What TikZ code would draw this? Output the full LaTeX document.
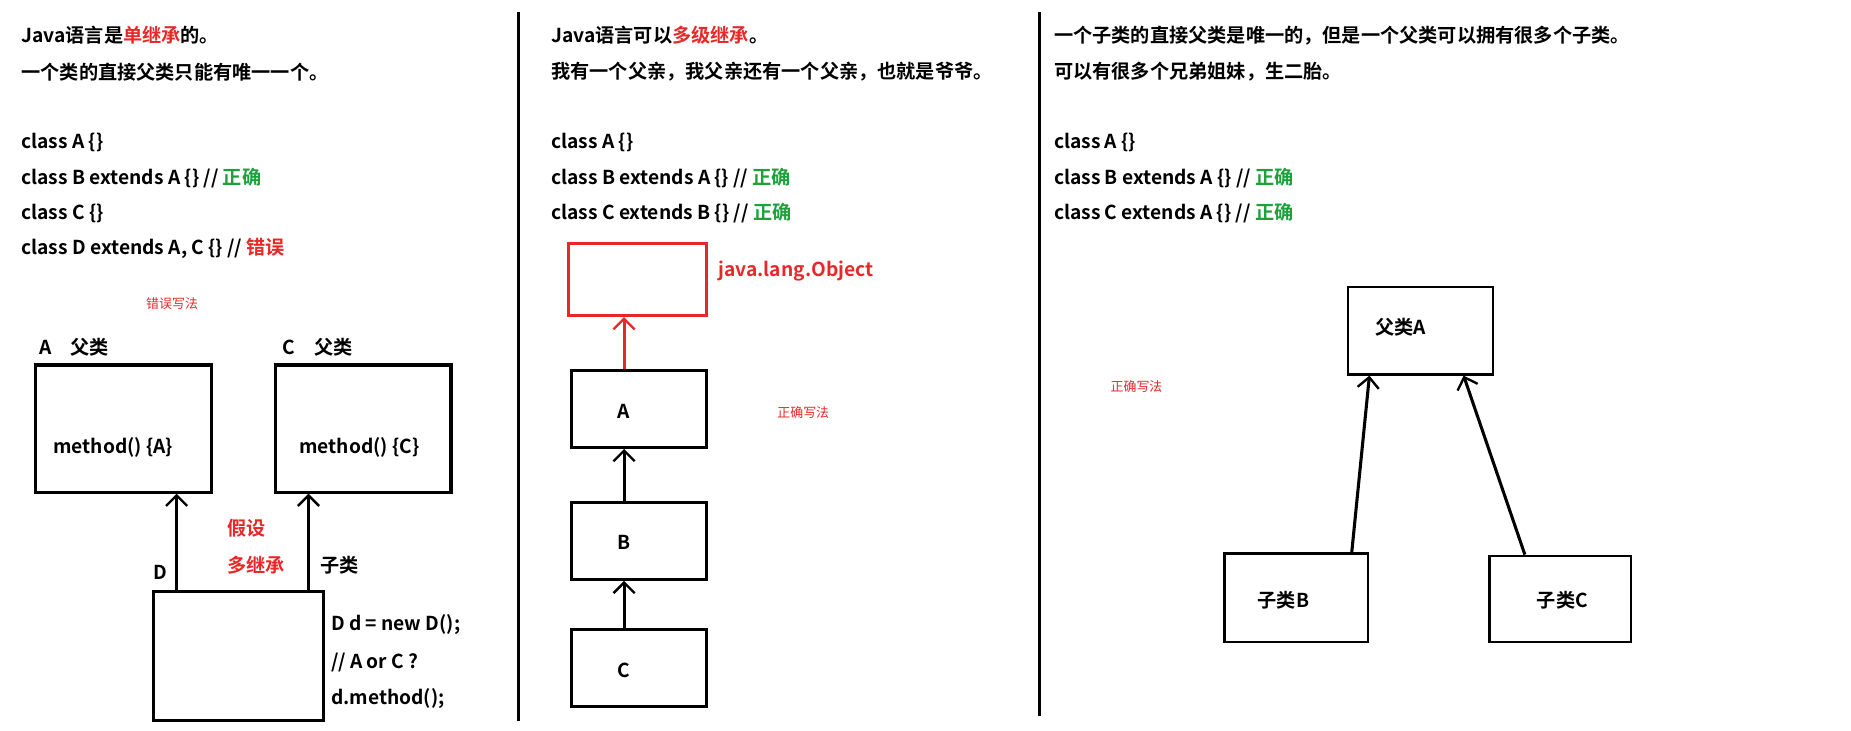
\documentclass[tikz,border=0pt]{standalone}
\usepackage{fontspec}
\setmainfont{Noto Sans CJK SC}[BoldFont={* Bold}]
\usetikzlibrary{arrows.meta}
\definecolor{rd}{RGB}{232,40,40}
\definecolor{gn}{RGB}{30,160,60}
\begin{document}
\begin{tikzpicture}[x=1pt,y=-1pt,
 t/.style={anchor=west,inner sep=0,font=\fontsize{16.3}{19}\selectfont\bfseries},
 sm/.style={anchor=west,inner sep=0,text=rd,font=\fontsize{11}{13}\selectfont},
 bx/.style={draw,line width=2.6pt,font=\fontsize{16.3}{19}\selectfont\bfseries},
 ar/.style={line width=2.6pt,-{Straight Barb[length=9pt,width=18pt,line width=2pt]}}]
\useasboundingbox (0,0) rectangle (1572,620);
\draw[line width=2.4pt] (440,10) -- (440,612);
\draw[line width=2.4pt] (883,10) -- (883,608);
% panel 1
\node[t] (p1a) at (18,30) {Java语言是\textcolor{rd}{单继承}的。};
\node[t] (p1b) at (18,61) {一个类的直接父类只能有唯一一个。};
\node[t] (p1c) at (18,121) {class A \{\}};
\node[t] (p1d) at (18,151) {class B extends A \{\} // \textcolor{gn}{正确}};
\node[t] (p1e) at (18,181) {class C \{\}};
\node[t] (p1f) at (18,211) {class D extends A, C \{\} // \textcolor{rd}{错误}};
\node[sm] (w1) at (124,258) {错误写法};
\node[bx,minimum width=150pt,minimum height=108pt] (A) at (105,364) {};
\node[t] (ma) at (45,380) {method() \{A\}};
\node[t] (la) at (33,295) {A\quad 父类};
\node[bx,minimum width=149pt,minimum height=108pt] (C) at (308.5,364) {};
\node[t] (mc) at (254,380) {method() \{C\}};
\node[t] (lc) at (240,295) {C\quad 父类};
\node[bx,minimum width=145pt,minimum height=110pt] (D) at (202.5,557) {};
\node[t] (ld) at (130,486) {D};
\draw[ar] (D.north -| 150,0) -- (A.south -| 150,0);
\draw[ar] (D.north -| 262,0) -- (C.south -| 262,0);
\node[t,text=rd] (js) at (193,449) {假设};
\node[t,text=rd] (dj) at (193,480) {多继承};
\node[t] (zl) at (272,480) {子类};
\node[t] (c1) at (281,530) {D d = new D();};
\node[t] (c2) at (281,563) {// A or C ?};
\node[t] (c3) at (281,593) {d.method();};
% panel 2
\node[t] (p2a) at (468,30) {Java语言可以\textcolor{rd}{多级继承}。};
\node[t] (p2b) at (468,61) {我有一个父亲，我父亲还有一个父亲，也就是爷爷。};
\node[t] (p2c) at (468,121) {class A \{\}};
\node[t] (p2d) at (468,151) {class B extends A \{\} // \textcolor{gn}{正确}};
\node[t] (p2e) at (468,181) {class C extends B \{\} // \textcolor{gn}{正确}};
\node[draw=rd,line width=2.6pt,minimum width=117pt,minimum height=61pt] (O) at (541.5,237.5) {};
\node[t,text=rd] (on) at (610,230) {java.lang.Object};
\node[bx,minimum width=115pt,minimum height=65pt] (A2) at (542.5,347.5) {};
\node[t] (ta) at (524,349) {A};
\node[bx,minimum width=115pt,minimum height=65pt] (B2) at (542.5,459.5) {};
\node[t] (tb) at (524,461) {B};
\node[bx,minimum width=115pt,minimum height=65pt] (C2) at (542.5,567.5) {};
\node[t] (tc) at (524,569) {C};
\draw[ar,draw=rd] (A2.north -| 530,0) -- (O.south -| 530,0);
\draw[ar] (B2.north -| 530,0) -- (A2.south -| 530,0);
\draw[ar] (C2.north -| 530,0) -- (B2.south -| 530,0);
\node[sm] (w2) at (660,350) {正确写法};
% panel 3
\node[t] (p3a) at (895,30) {一个子类的直接父类是唯一的，但是一个父类可以拥有很多个子类。};
\node[t] (p3b) at (895,61) {可以有很多个兄弟姐妹，生二胎。};
\node[t] (p3c) at (895,121) {class A \{\}};
\node[t] (p3d) at (895,151) {class B extends A \{\} // \textcolor{gn}{正确}};
\node[t] (p3e) at (895,181) {class C extends A \{\} // \textcolor{gn}{正确}};
\node[sm] (w3) at (943,328) {正确写法};
\node[draw,line width=2pt,minimum width=123pt,minimum height=74pt] (PA) at (1206.5,281) {};
\node[t] (tpa) at (1168,278) {父类A};
\node[draw,line width=2pt,minimum width=122pt,minimum height=75pt] (SB) at (1101,507.5) {};
\node[t] (tsb) at (1068,510) {子类B};
\node[draw,line width=2pt,minimum width=120pt,minimum height=73pt] (SC) at (1325,508.5) {};
\node[t] (tsc) at (1305,510) {子类C};
\draw[ar] (SB.north -| 1148,0) -- (PA.south -| 1163,0);
\draw[ar] (SC.north -| 1295,0) -- (PA.south -| 1243,0);
\end{tikzpicture}
\end{document}
